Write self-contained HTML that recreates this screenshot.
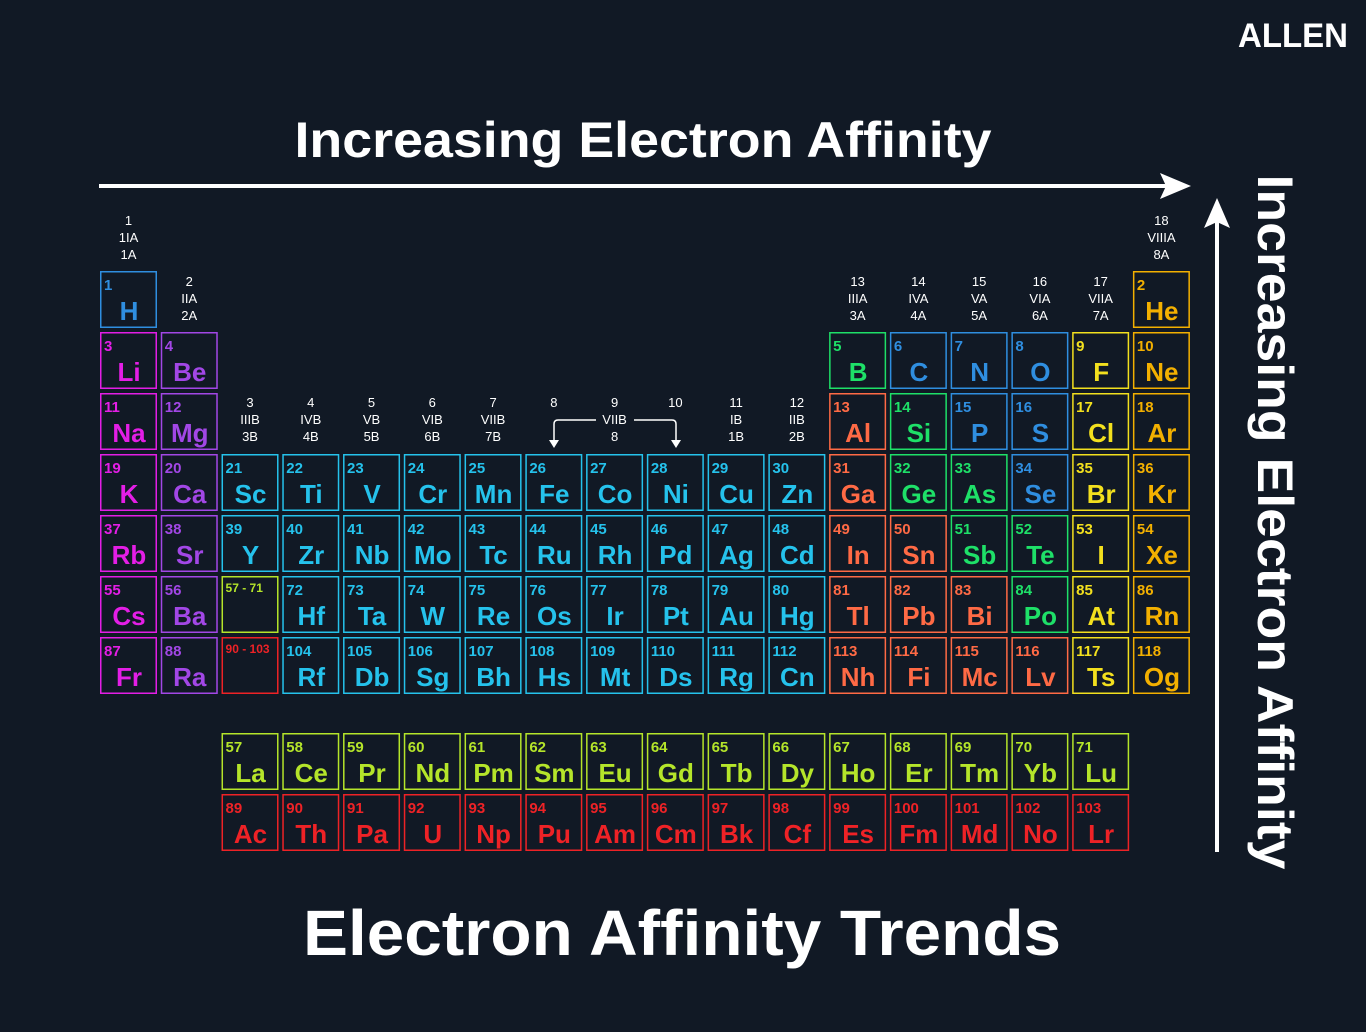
<!DOCTYPE html>
<html><head><meta charset="utf-8">
<style>
html,body{margin:0;padding:0;background:#111925;}
svg{display:block;font-family:"Liberation Sans",sans-serif;}
</style></head>
<body>
<svg id="s" width="1366" height="1032" viewBox="0 0 1366 1032" xmlns="http://www.w3.org/2000/svg">
<rect width="1366" height="1032" fill="#111925"/>
<text x="1293" y="47" font-size="34" font-weight="bold" fill="#fff" text-anchor="middle" textLength="110" lengthAdjust="spacingAndGlyphs">ALLEN</text>
<text x="643" y="157" font-size="50" font-weight="bold" fill="#fff" text-anchor="middle" textLength="697" lengthAdjust="spacingAndGlyphs">Increasing Electron Affinity</text>
<line x1="99" y1="186" x2="1170" y2="186" stroke="#fff" stroke-width="4"/>
<polygon points="1160,173 1191,186 1160,199 1166,186" fill="#fff"/>
<line x1="1217" y1="852" x2="1217" y2="215" stroke="#fff" stroke-width="4"/>
<polygon points="1204,228 1217,198 1230,228 1217,222" fill="#fff"/>
<text transform="translate(1258,522) rotate(90)" x="0" y="0" font-size="50" font-weight="bold" fill="#fff" text-anchor="middle" textLength="695" lengthAdjust="spacingAndGlyphs">Increasing Electron Affinity</text>
<text x="682" y="955" font-size="64" font-weight="bold" fill="#fff" text-anchor="middle" textLength="758" lengthAdjust="spacingAndGlyphs">Electron Affinity Trends</text>
<g id="cells"></g>
</svg>
<script>
var C={m:"#e41ee6",p:"#a247e6",b:"#2f8ee0",c:"#25c2ec",g:"#1ee068",y:"#f3e01e",o:"#f3b000",r:"#ff6a45",l:"#b5e52a",d:"#ee2226"};
var rows=[
[[1,1,"H","b"],[18,2,"He","o"]],
[[1,3,"Li","m"],[2,4,"Be","p"],[13,5,"B","g"],[14,6,"C","b"],[15,7,"N","b"],[16,8,"O","b"],[17,9,"F","y"],[18,10,"Ne","o"]],
[[1,11,"Na","m"],[2,12,"Mg","p"],[13,13,"Al","r"],[14,14,"Si","g"],[15,15,"P","b"],[16,16,"S","b"],[17,17,"Cl","y"],[18,18,"Ar","o"]]
];
function tr(start,syms,cats){return syms.map(function(s,i){return [i+1,start+i,s,cats[i]]});}
rows.push(tr(19,["K","Ca","Sc","Ti","V","Cr","Mn","Fe","Co","Ni","Cu","Zn","Ga","Ge","As","Se","Br","Kr"],"mpccccccccccrggbyo"));
rows.push(tr(37,["Rb","Sr","Y","Zr","Nb","Mo","Tc","Ru","Rh","Pd","Ag","Cd","In","Sn","Sb","Te","I","Xe"],"mpccccccccccrrggyo"));
var r6=[[1,55,"Cs","m"],[2,56,"Ba","p"],[3,"57 - 71","","l"]];
["Hf","Ta","W","Re","Os","Ir","Pt","Au","Hg","Tl","Pb","Bi","Po","At","Rn"].forEach(function(s,i){r6.push([4+i,72+i,s,"cccccccccrrrgyo"[i]]);});
rows.push(r6);
var r7=[[1,87,"Fr","m"],[2,88,"Ra","p"],[3,"90 - 103","","d"]];
["Rf","Db","Sg","Bh","Hs","Mt","Ds","Rg","Cn","Nh","Fi","Mc","Lv","Ts","Og"].forEach(function(s,i){r7.push([4+i,104+i,s,"cccccccccrrrryo"[i]]);});
rows.push(r7);
var out="";
function cell(col,y,num,sym,cat){
 var x=100+(col-1)*60.76, c=C[cat];
 out+='<rect x="'+(x+0.75)+'" y="'+(y+0.75)+'" width="55.5" height="55.5" fill="none" stroke="'+c+'" stroke-width="1.5"/>';
 if(sym===""){out+='<text x="'+(x+4)+'" y="'+(y+16)+'" font-size="12" font-weight="bold" fill="'+c+'">'+num+'</text>';return;}
 out+='<text x="'+(x+4)+'" y="'+(y+19)+'" font-size="15" font-weight="bold" fill="'+c+'">'+num+'</text>';
 out+='<text x="'+(x+29)+'" y="'+(y+49)+'" font-size="26" font-weight="bold" fill="'+c+'" text-anchor="middle">'+sym+'</text>';
}
rows.forEach(function(r,i){r.forEach(function(e){cell(e[0],271+i*61,e[1],e[2],e[3]);});});
["La","Ce","Pr","Nd","Pm","Sm","Eu","Gd","Tb","Dy","Ho","Er","Tm","Yb","Lu"].forEach(function(s,i){cell(3+i,733,57+i,s,"l");});
["Ac","Th","Pa","U","Np","Pu","Am","Cm","Bk","Cf","Es","Fm","Md","No","Lr"].forEach(function(s,i){cell(3+i,794,89+i,s,"d");});
function lab(col,y,a){var x=100+(col-1)*60.76+28.5;a.forEach(function(t,i){if(t)out+='<text x="'+x+'" y="'+(y+i*17)+'" font-size="13" fill="#fff" text-anchor="middle">'+t+'</text>';});}
lab(1,225,["1","1IA","1A"]);lab(2,286,["2","IIA","2A"]);lab(18,225,["18","VIIIA","8A"]);
lab(13,286,["13","IIIA","3A"]);lab(14,286,["14","IVA","4A"]);lab(15,286,["15","VA","5A"]);lab(16,286,["16","VIA","6A"]);lab(17,286,["17","VIIA","7A"]);
lab(3,407,["3","IIIB","3B"]);lab(4,407,["4","IVB","4B"]);lab(5,407,["5","VB","5B"]);lab(6,407,["6","VIB","6B"]);lab(7,407,["7","VIIB","7B"]);
lab(8,407,["8"]);lab(9,407,["9","VIIB","8"]);lab(10,407,["10"]);
lab(11,407,["11","IB","1B"]);lab(12,407,["12","IIB","2B"]);
out+='<path d="M554,444 V424 Q554,420 558,420 H596 M634,420 H672 Q676,420 676,424 V444" fill="none" stroke="#fff" stroke-width="1.5"/>';
out+='<polygon points="549,440 554,448 559,440" fill="#fff"/><polygon points="671,440 676,448 681,440" fill="#fff"/>';
document.getElementById("cells").innerHTML=out;
</script>
</body></html>
